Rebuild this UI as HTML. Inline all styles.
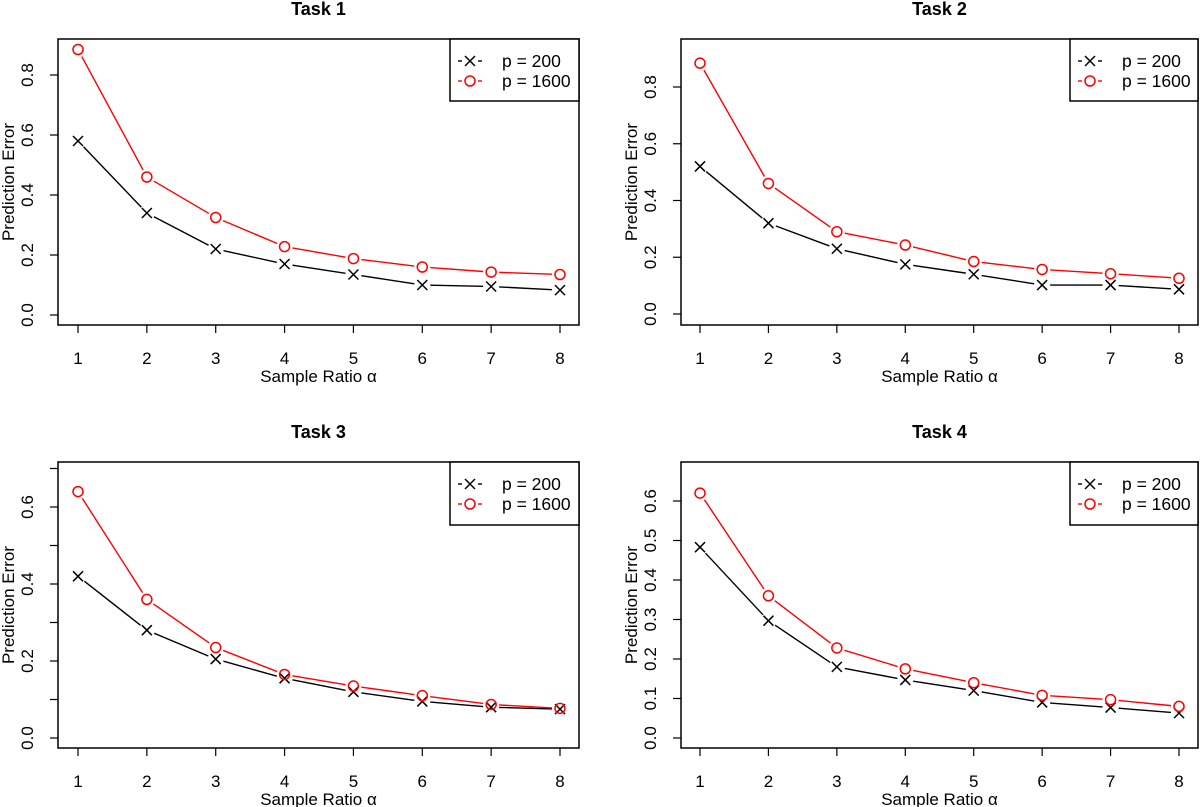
<!DOCTYPE html>
<html><head><meta charset="utf-8">
<style>
html,body{margin:0;padding:0;background:#fff;}
svg{display:block;font-family:"Liberation Sans",Arial,sans-serif;}
</style></head>
<body>
<svg id="chart" width="1200" height="807" viewBox="0 0 1200 807" xmlns="http://www.w3.org/2000/svg"></svg>
<script>
const categories = [1,2,3,4,5,6,7,8];
const seriesNames = ["p = 200", "p = 1600"];
const task1Black = [0.58,0.34,0.22,0.17,0.135,0.10,0.095,0.083];
const task1Red   = [0.885,0.46,0.325,0.228,0.188,0.16,0.143,0.135];
const task2Black = [0.52,0.32,0.23,0.175,0.14,0.102,0.102,0.087];
const task2Red   = [0.884,0.46,0.29,0.243,0.185,0.157,0.142,0.126];
const task3Black = [0.42,0.28,0.205,0.155,0.12,0.095,0.08,0.075];
const task3Red   = [0.64,0.36,0.235,0.165,0.135,0.11,0.087,0.077];
const task4Black = [0.483,0.297,0.18,0.147,0.12,0.09,0.077,0.063];
const task4Red   = [0.62,0.36,0.228,0.175,0.14,0.108,0.097,0.08];
const ticks1 = [0,0.2,0.4,0.6,0.8];
const tickLabels1 = ["0.0","0.2","0.4","0.6","0.8"];
const ticks3 = [0,0.1,0.2,0.3,0.4,0.5,0.6,0.7];
const tickLabels3 = ["0.0","","0.2","","0.4","","0.6",""];
const ticks4 = [0,0.1,0.2,0.3,0.4,0.5,0.6];
const tickLabels4 = ["0.0","0.1","0.2","0.3","0.4","0.5","0.6"];
const titles = ["Task 1","Task 2","Task 3","Task 4"];

const NS="http://www.w3.org/2000/svg";
const svg=document.getElementById('chart');
function mk(tag,attrs,parent){const e=document.createElementNS(NS,tag);for(const k in attrs)e.setAttribute(k,attrs[k]);(parent||svg).appendChild(e);return e;}

const panels=[
 {t:0,bx:58,bx2:579,by:39,by2:325,x1:78,x8:560,y0:315,yv:0.8,yp:75,ticks:ticks1,labs:tickLabels1,b:task1Black,r:task1Red,lx:450,ly2:101},
 {t:1,bx:681,bx2:1198,by:39,by2:325,x1:700,x8:1179,y0:314,yv:0.8,yp:87,ticks:ticks1,labs:tickLabels1,b:task2Black,r:task2Red,lx:1070,ly2:101},
 {t:2,bx:58,bx2:579,by:462,by2:748,x1:78,x8:560,y0:738,yv:0.6,yp:507,ticks:ticks3,labs:tickLabels3,b:task3Black,r:task3Red,lx:450,ly2:525},
 {t:3,bx:681,bx2:1198,by:462,by2:748,x1:700,x8:1179,y0:738,yv:0.6,yp:501,ticks:ticks4,labs:tickLabels4,b:task4Black,r:task4Red,lx:1070,ly2:525}
];

panels.forEach(p=>{
  const g=mk('g',{});
  
  
  const xs=v=>p.x1+(v-1)*(p.x8-p.x1)/7;
  const ys=v=>p.y0-(v)*(p.y0-p.yp)/p.yv;
  const cx=(p.bx+p.bx2)/2, cy=(p.by+p.by2)/2;
  const title=mk('text',{x:cx,y:p.by-24,'text-anchor':'middle','font-size':18,'font-weight':'bold'},g);
  title.textContent=titles[p.t];
  
  
  const box=mk('rect',{x:p.bx,y:p.by,width:p.bx2-p.bx,height:p.by2-p.by,fill:'none',stroke:'#000','stroke-width':1.5},g);
  
  
  const xa=mk('g',{},g);
  
  
  mk('line',{x1:xs(1),x2:xs(8),y1:p.by2,y2:p.by2,stroke:'#000'},xa);
  categories.forEach(c=>{
    mk('line',{x1:xs(c),x2:xs(c),y1:p.by2,y2:p.by2+8,stroke:'#000','stroke-width':1.2},xa);
    const t=mk('text',{x:xs(c),y:p.by2+39,'text-anchor':'middle','font-size':17},xa);
    t.textContent=c;
    
    
  });
  const xl=mk('text',{x:cx,y:p.by2+57,'text-anchor':'middle','font-size':17},g);
  xl.textContent='Sample Ratio α';
  
  
  const ya=mk('g',{},g);
  
  
  mk('line',{x1:p.bx,x2:p.bx,y1:ys(p.ticks[0]),y2:ys(p.ticks[p.ticks.length-1]),stroke:'#000'},ya);
  p.ticks.forEach((v,i)=>{
    mk('line',{x1:p.bx,x2:p.bx-8,y1:ys(v),y2:ys(v),stroke:'#000','stroke-width':1.2},ya);
    if(p.labs[i]){
      const tx=p.bx-31;
      const t=mk('text',{x:tx,y:ys(v),'text-anchor':'middle','font-size':17,transform:'rotate(-90 '+tx+' '+ys(v)+')',dy:6},ya);
      t.textContent=p.labs[i];
      
      
    }
  });
  const ylx=p.bx-50;
  const yl=mk('text',{x:ylx,y:cy,'text-anchor':'middle','font-size':17,transform:'rotate(-90 '+ylx+' '+cy+')',dy:6},g);
  yl.textContent='Prediction Error';
  
  
  [[p.b,'#000','x'],[p.r,'#ff0000','o']].forEach((s,si)=>{
    const sg=mk('g',{},g);
    
    
    const vals=s[0];
    for(let i=0;i<vals.length-1;i++){
      const ax=xs(categories[i]),ay=ys(vals[i]),bx=xs(categories[i+1]),by=ys(vals[i+1]);
      const d=Math.hypot(bx-ax,by-ay),gap=8;
      if(d>2*gap){
        const ux=(bx-ax)/d,uy=(by-ay)/d;
        const seg=mk('line',{x1:ax+ux*gap,y1:ay+uy*gap,x2:bx-ux*gap,y2:by-uy*gap,stroke:s[1],'stroke-width':1.4},sg);
        
        
      }
    }
    vals.forEach((v,i)=>{
      const x=xs(categories[i]),y=ys(v);
      let m;
      if(s[2]==='x'){
        m=mk('path',{d:`M${x-5},${y-5}L${x+5},${y+5}M${x-5},${y+5}L${x+5},${y-5}`,stroke:s[1],'stroke-width':1.5,fill:'none'},sg);
      }else{
        m=mk('circle',{cx:x,cy:y,r:5,stroke:s[1],'stroke-width':1.5,fill:'none'},sg);
      }
      
      
    });
  });
  const lg=mk('g',{},g);
  
  
  mk('rect',{x:p.lx,y:p.by,width:p.bx2-p.lx,height:p.ly2-p.by,fill:'#fff',stroke:'#000','stroke-width':1.5},lg);
  [0,1].forEach(k=>{
    const y=p.by+22+k*20, sx=p.lx+20;
    const col=k?'#ff0000':'#000';
    const e=mk('g',{},lg);
    
    
    mk('line',{x1:sx-12,x2:sx-8,y1:y,y2:y,stroke:col,'stroke-width':1.4},e);
    mk('line',{x1:sx+8,x2:sx+12,y1:y,y2:y,stroke:col,'stroke-width':1.4},e);
    if(k===0) mk('path',{d:`M${sx-5},${y-5}L${sx+5},${y+5}M${sx-5},${y+5}L${sx+5},${y-5}`,stroke:col,'stroke-width':1.5},e);
    else mk('circle',{cx:sx,cy:y,r:5,stroke:col,'stroke-width':1.5,fill:'none'},e);
    const t=mk('text',{x:p.lx+52,y:y+6,'font-size':17.5},e);
    t.textContent=seriesNames[k];
  });
});
</script>
</body></html>
